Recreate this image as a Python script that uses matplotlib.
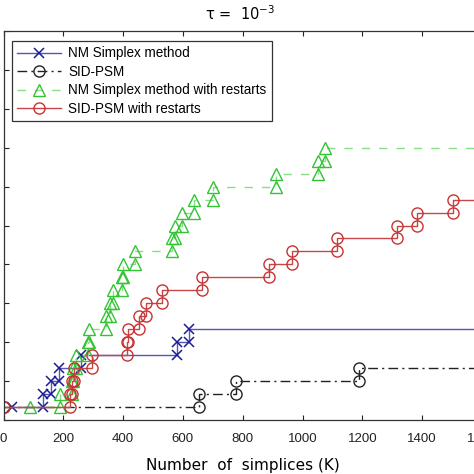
import matplotlib
matplotlib.use("Agg")
import matplotlib.pyplot as plt
import numpy as np

# data profile, 30 problems: x = number of simplices, y = solved count / 30
n_problems = 30
x_end = 2000

nm_start = (27, 1)
nm_jumps = [131, 158, 187, 260, 580, 621]
nm_levels = [2, 3, 4, 5, 6, 7]

sid_start = (0, 1)
sid_jumps = [654, 778, 1189]
sid_levels = [2, 3, 4]

nmr_start = (89, 1)
nmr_jumps = [189, 228, 232, 241, 284, 287, 344, 355, 365, 395, 398, 441,
             564, 575, 596, 638, 702, 912, 1052, 1076]
nmr_levels = [2, 3, 4, 5, 6, 7, 8, 9, 10, 11, 12, 13,
              14, 15, 16, 17, 18, 19, 20, 21]

sidr_start = (0, 1)
sidr_jumps = [223, 230, 235, 296, 413, 416, 453, 478, 530, 665, 889, 965,
              1114, 1317, 1382, 1502]
sidr_levels = [2, 3, 4, 5, 6, 7, 8, 9, 10, 11, 12, 13,
               14, 15, 16, 17]

labels = ['NM Simplex method', 'SID-PSM', 'NM Simplex method with restarts',
          'SID-PSM with restarts']
xticks = [0, 200, 400, 600, 800, 1000, 1200, 1400, 1600]


def stairs(start, jumps, levels):
    xs, ys = [start[0]], [start[1]]
    prev = start[1]
    for xj, lv in zip(jumps, levels):
        xs += [xj, xj]
        ys += [prev, lv]
        prev = lv
    xs.append(x_end)
    ys.append(prev)
    return np.array(xs), np.array(ys) / n_problems


fig = plt.figure(figsize=(4.74, 4.74), dpi=100)
W = 474.0
ax = fig.add_axes([3.5 / W, 54 / W, 478.5 / W, 389 / W])

styles = [
    (nm_start, nm_jumps, nm_levels, dict(color='#5555bb', ls='-', marker='x',
                                         mec='#1c1c95', ms=6.5, mew=1.1)),
    (sid_start, sid_jumps, sid_levels, dict(color='#222222', ls=(0, (7, 3, 1.5, 3)),
                                            marker='o', mfc='none', mec='#222222', ms=8)),
    (nmr_start, nmr_jumps, nmr_levels, dict(color='#88dd88', ls=(0, (6, 6.5)),
                                            marker='^', mfc='none', mec='#33c433', ms=8)),
    (sidr_start, sidr_jumps, sidr_levels, dict(color='#c44848', ls='-', marker='o',
                                               mfc='none', mec='#c83232', ms=8)),
]

handles = []
for (st, jp, lv, kw), lab in zip(styles, labels):
    xs, ys = stairs(st, jp, lv)
    h, = ax.plot(xs, ys, lw=1.0, label=lab, **kw)
    handles.append(h)

ax.set_xlim(0, 1600)
ax.set_ylim(0, 1)
ax.set_xticks(xticks)
ax.set_xticklabels([str(t) for t in xticks], fontfamily='Liberation Sans', fontsize=9.5)
ax.set_yticks(np.arange(0, 1.01, 0.1))
ax.set_yticklabels([])
ax.tick_params(direction='in', top=True, right=True, length=3.5, width=0.8,
               pad=9, colors='#222222')
for sp in ax.spines.values():
    sp.set_color('#333333')
    sp.set_linewidth(0.9)

ax.set_xlabel('Number  of  simplices (K)', fontfamily='DejaVu Sans', fontsize=11,
              labelpad=10)
fig.text(240 / W, 1 - 14 / W, 'τ =  10$^{-3}$', ha='center', va='center',
         fontfamily='DejaVu Sans', fontsize=10.5)

leg = fig.legend(handles=handles, loc='upper left',
                 bbox_to_anchor=(11.7 / W, 1 - 40.7 / W), borderaxespad=0,
                 prop={'family': 'Liberation Sans', 'size': 9.75},
                 handlelength=3.2, handletextpad=0.55, labelspacing=0.33,
                 borderpad=0.42, fancybox=False, framealpha=1)
leg.get_frame().set_edgecolor('#333333')
leg.get_frame().set_linewidth(0.9)

fig.savefig('out.png', dpi=100)
